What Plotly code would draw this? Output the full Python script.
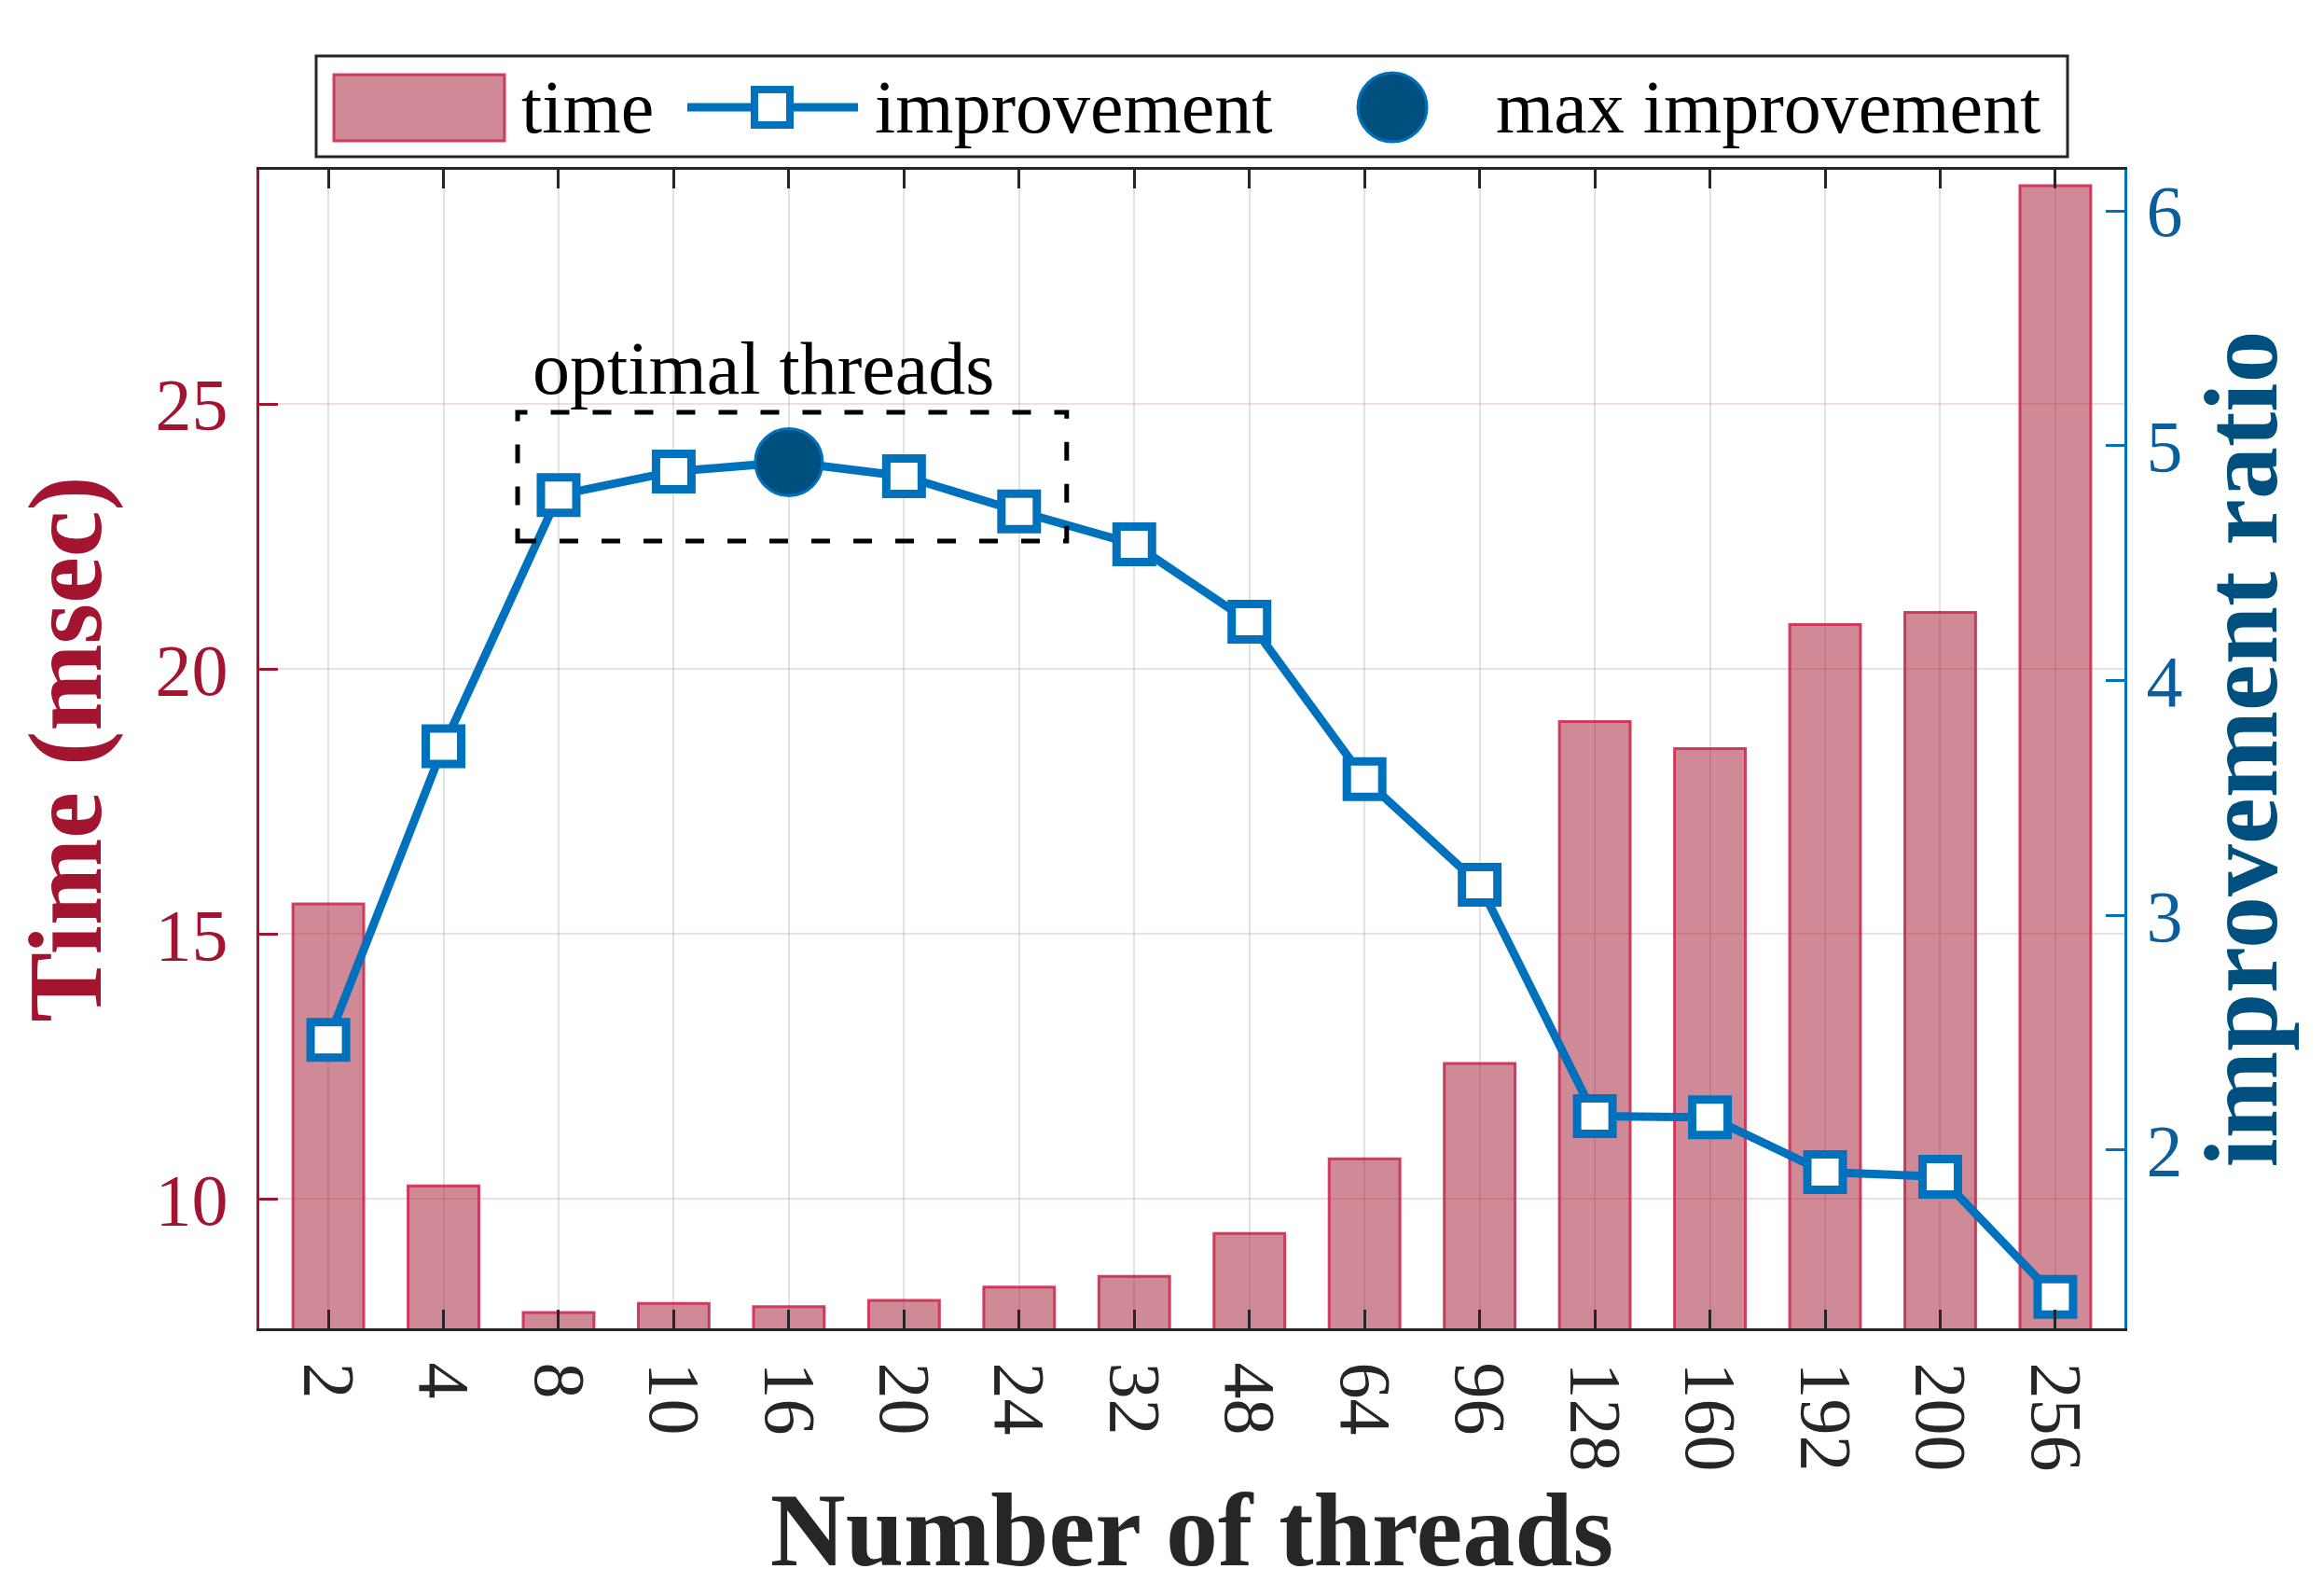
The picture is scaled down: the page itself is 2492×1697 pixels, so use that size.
import plotly.graph_objects as go

# ---------------- data ----------------
threads = ["2", "4", "8", "10", "16", "20", "24", "32", "48", "64", "96", "128", "160", "192", "200", "256"]
time_ms = [15.57, 10.25, 7.86, 8.03, 7.97, 8.09, 8.34, 8.54, 9.35, 10.76, 12.56, 19.01, 18.50, 20.84, 21.07, 29.12]
improvement = [2.47, 3.72, 4.79, 4.89, 4.93, 4.87, 4.72, 4.58, 4.25, 3.58, 3.13, 2.145, 2.14, 1.906, 1.887, 1.375]
series_names = ["time", "improvement", "max improvement"]
annotation_text = "optimal threads"
x_title = "Number of threads"
y_title = "Time (msec)"
y2_title = "improvement ratio"
left_ticks = [10, 15, 20, 25]
right_ticks = [2, 3, 4, 5, 6]

max_idx = improvement.index(max(improvement))

# ---------------- style ----------------
W, H = 2492, 1697
L, R, T, B = 270, 2270, 174, 1416
FONT = "Liberation Serif"
RED = "#A2142F"
BLUE = "#0072BD"
DBLUE = "#00507F"
DARK = "#262626"
BAR_FILL = "rgba(162,20,47,0.5)"
BAR_EDGE = "rgba(205,35,75,0.85)"


def px(x):
    return (x - L) / (R - L)


def py(y):
    return (B - y) / (B - T)


fig = go.Figure()

fig.add_trace(go.Bar(
    x=threads, y=time_ms, name=series_names[0], yaxis="y",
    width=0.615,
    marker=dict(color=BAR_FILL, line=dict(color=BAR_EDGE, width=3)),
    showlegend=False,
))

fig.add_trace(go.Scatter(
    x=threads, y=improvement, name=series_names[1], yaxis="y2",
    mode="lines+markers",
    line=dict(color=BLUE, width=9),
    marker=dict(symbol="square", size=38, color="white", line=dict(color=BLUE, width=9)),
    showlegend=False,
))

fig.add_trace(go.Scatter(
    x=[threads[max_idx]], y=[improvement[max_idx]], name=series_names[2], yaxis="y2",
    mode="markers",
    marker=dict(symbol="circle", size=72, color=DBLUE, line=dict(color=BLUE, width=3)),
    showlegend=False,
))

shapes = []
annotations = []

# dashed box around the optimal region
shapes.append(dict(
    type="rect", xref="x", yref="y2", x0=1.644, x1=6.413, y0=4.594, y1=5.142,
    line=dict(color="black", width=5, dash="20px,25px"), fillcolor="rgba(0,0,0,0)", layer="above",
))
annotations.append(dict(
    xref="x", yref="y2", x=1.76, y=5.33, text=annotation_text, showarrow=False,
    xanchor="left", yanchor="middle", font=dict(family=FONT, size=80, color="black"),
))

# manual legend (large symbols like the original)
shapes += [
    dict(type="rect", xref="paper", yref="paper", x0=px(331), x1=px(2209), y0=py(160), y1=py(52),
         line=dict(color=DARK, width=3), fillcolor="white", layer="above"),
    dict(type="rect", xref="paper", yref="paper", x0=px(350), x1=px(533), y0=py(143), y1=py(72),
         line=dict(color=BAR_EDGE, width=3), fillcolor=BAR_FILL, layer="above"),
    dict(type="line", xref="paper", yref="paper", x0=px(729), x1=px(912), y0=py(107), y1=py(107),
         line=dict(color=BLUE, width=9), layer="above"),
    dict(type="rect", xref="paper", yref="paper", x0=px(801), x1=px(839), y0=py(126), y1=py(88),
         line=dict(color=BLUE, width=8), fillcolor="white", layer="above"),
    dict(type="circle", xref="paper", yref="paper", x0=px(1448), x1=px(1522), y0=py(144), y1=py(70),
         line=dict(color=BLUE, width=3), fillcolor=DBLUE, layer="above"),
]
for name, xl in zip(series_names, [549, 928, 1594]):
    annotations.append(dict(
        xref="paper", yref="paper", x=px(xl), y=py(107), text=name, showarrow=False,
        xanchor="left", yanchor="middle", font=dict(family=FONT, size=80, color="black"),
    ))

fig.update_layout(
    width=W, height=H,
    margin=dict(l=L, r=W - R, t=T, b=H - B, pad=0),
    paper_bgcolor="white", plot_bgcolor="white",
    font=dict(family=FONT, size=78, color=DARK),
    bargap=0.3,
    shapes=shapes,
    annotations=annotations,
    xaxis=dict(
        type="category", range=[-0.6, 15.6],
        showline=True, linecolor=DARK, linewidth=3, mirror="ticks",
        ticks="inside", ticklen=20, tickwidth=2.5, tickcolor=DARK,
        tickangle=90, tickfont=dict(family=FONT, size=78, color=DARK),
        ticklabelstandoff=18,
        showgrid=True, gridcolor="rgba(0,0,0,0.11)", gridwidth=2,
        title=dict(text=x_title, font=dict(family=FONT, size=112, color=DARK, weight="bold"), standoff=0),
        automargin=False, zeroline=False,
    ),
    yaxis=dict(
        range=[7.56, 29.42], tickvals=left_ticks,
        showline=True, linecolor=RED, linewidth=3,
        ticks="inside", ticklen=20, tickwidth=2.5, tickcolor=RED,
        tickfont=dict(family=FONT, size=78, color=RED),
        ticklabelstandoff=15,
        showgrid=True, gridcolor="rgba(162,20,47,0.14)", gridwidth=2,
        title=dict(text=y_title, font=dict(family=FONT, size=112, color=RED, weight="bold"), standoff=40),
        automargin=False, zeroline=False,
    ),
    yaxis2=dict(
        overlaying="y", side="right",
        range=[1.241, 6.175], tickvals=right_ticks,
        showline=True, linecolor=BLUE, linewidth=3,
        ticks="inside", ticklen=20, tickwidth=2.5, tickcolor=BLUE,
        tickfont=dict(family=FONT, size=78, color="#0B5E9E"),
        ticklabelstandoff=5,
        showgrid=False,
        title=dict(text=y2_title, font=dict(family=FONT, size=112, color=DBLUE, weight="bold"), standoff=8),
        automargin=False, zeroline=False,
    ),
)

fig.write_html("out.html")
